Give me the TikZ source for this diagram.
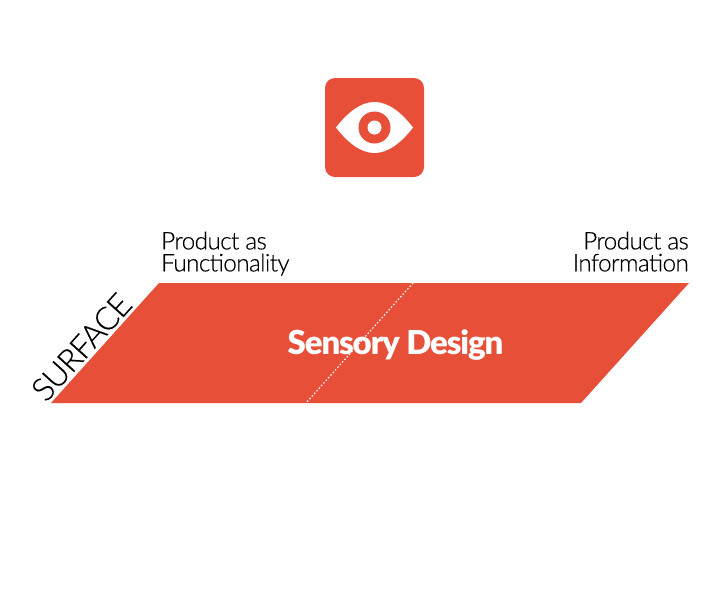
\documentclass[tikz,border=0pt]{standalone}
\usepackage{fontspec}
\setmainfont{Lato}
\newfontfamily\latolight[LetterSpace=-2.5,FakeBold=0.25]{Lato Light}
\newfontfamily\latosurf[LetterSpace=-3,FakeBold=0.25]{Lato Light}
\newfontfamily\latohead[LetterSpace=-3.5]{Lato Black}
\definecolor{brand}{HTML}{E84F38}
\tikzset{
  lbl/.style={font=\latolight\fontsize{24.3}{22}\selectfont, text=black, inner sep=0pt},
}
\begin{document}
\begin{tikzpicture}[x=1pt,y=-1pt]
\useasboundingbox (0,0) rectangle (720,600);
\fill[white] (0,0) rectangle (720,600);
% icon
\fill[brand, rounded corners=10pt] (325,78) rectangle (424,177);
\fill[white] (336,127.5) .. controls (348,112) and (361,102) .. (374.5,102) .. controls (388,102) and (401,112) .. (413,127.5) .. controls (401,143) and (388,153) .. (374.5,153) .. controls (361,153) and (348,143) .. (336,127.5) -- cycle;
\fill[brand] (374.5,127.5) circle (16);
\fill[white] (374.5,127.5) circle (7);
% band
\fill[brand] (159,283) -- (689,283) -- (581,403) -- (51,403) -- cycle;
\draw[white, line width=1.2pt, dash pattern=on 1.5pt off 2pt] (413,283) -- (306,403);
% labels
\node[lbl, align=left, anchor=north west] (func) at (161,231.5) {Product as\\Functionality};
\node[lbl, align=right, anchor=north east] (info) at (689,231.5) {Product as\\Information};
\node[rotate=48, inner sep=0pt, font=\latosurf\fontsize{32}{32}\selectfont] (surf) at (81.5,347) {SURFACE};
\node[font=\latohead\fontsize{33}{33}\selectfont, text=white, inner sep=0pt] (sens) at (395.5,345) {Sensory Design};
\end{tikzpicture}
\end{document}
